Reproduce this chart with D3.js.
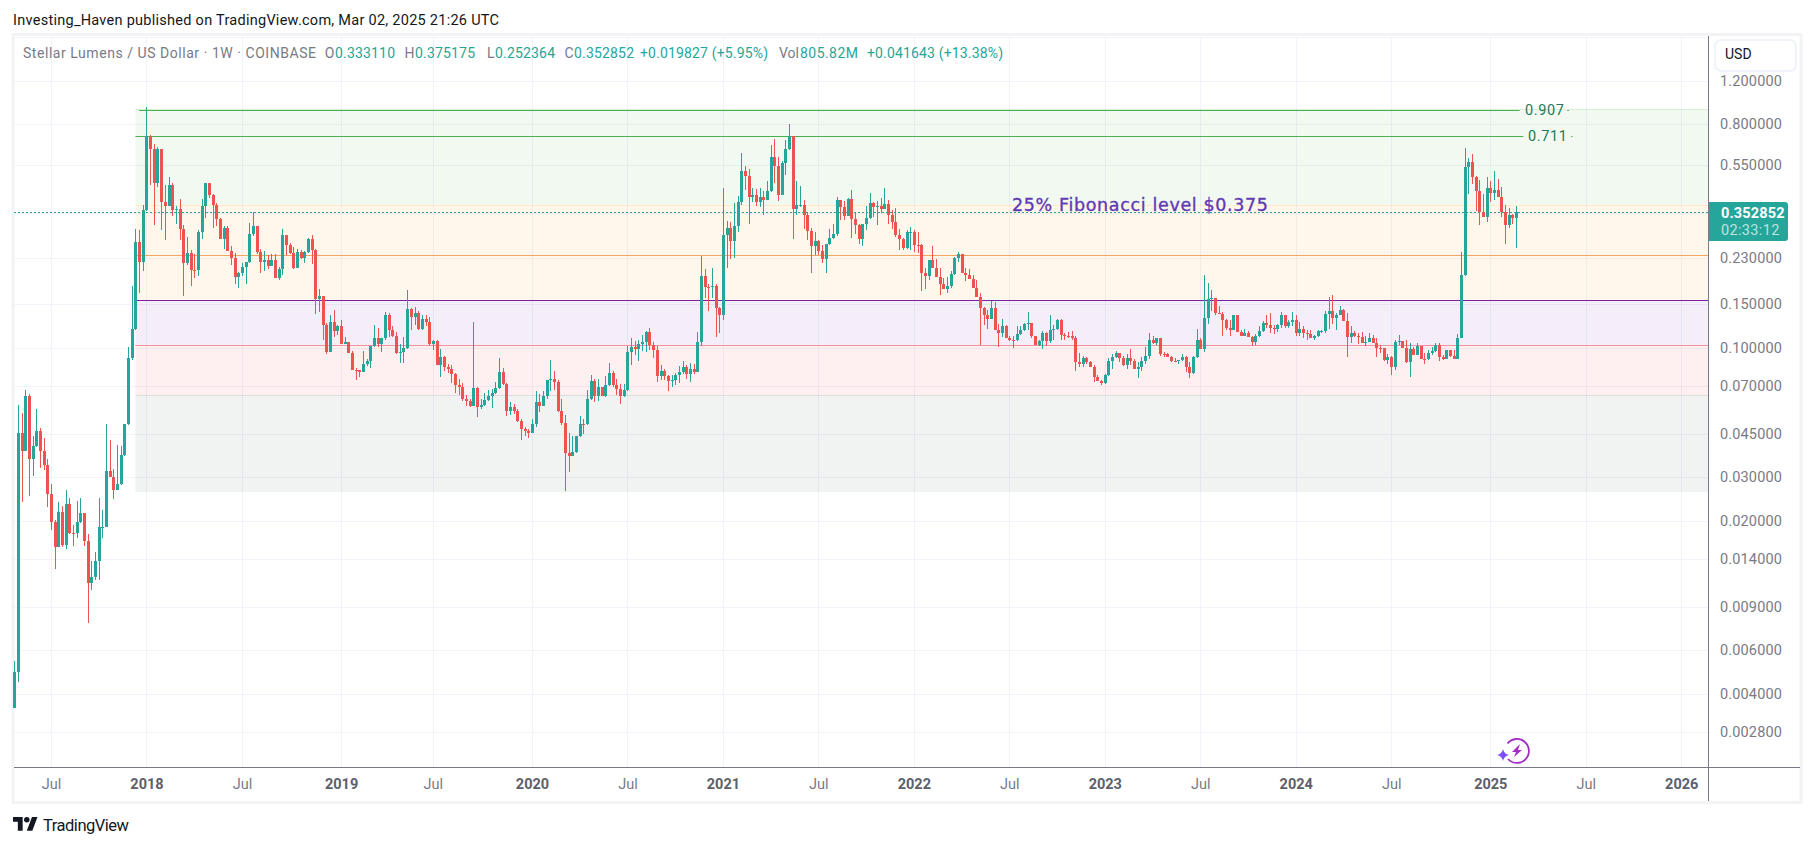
<!DOCTYPE html>
<html>
<head>
<meta charset="utf-8">
<script src="https://cdn.jsdelivr.net/npm/d3@7/dist/d3.min.js"></script>
<style>
  html, body { margin:0; padding:0; background:#fff; }
  svg { display:block; }
  text { font-family:Roboto, sans-serif; }
</style>
</head>
<body>
<svg id="chart" width="1814" height="846"></svg>
<script type="text/javascript">
// weekly candles, first one is the week of 2017-04-24
var firstOpen = .0035;
var closes = [
.00490,.0453,.0383,.0639,.0355,.0401,.0461,.0383,.0336,.0256,
.0198,.0156,.0217,.0159,.0234,.0179,.0178,.0198,.0215,.0165,
.0112,.0118,.0138,.0189,.0189,.0318,.0301,.0266,.0281,.0369,
.0493,.0910,.119,.268,.222,.360,.715,.636,.463,.636,
.388,.374,.455,.360,.364,.302,.220,.242,.206,.2055,
.294,.374,.463,.414,.378,.332,.275,.305,.246,.231,
.193,.201,.212,.222,.288,.311,.244,.222,.226,.214,
.226,.192,.208,.286,.260,.242,.210,.244,.231,.244,
.275,.248,.158,.162,.124,.0962,.127,.117,.122,.1035,
.1055,.0953,.0813,.0812,.0799,.0860,.0885,.1016,.110,.1035,
.109,.135,.118,.112,.0953,.0962,.0998,.144,.133,.138,
.119,.131,.127,.1035,.1065,.0852,.0918,.0837,.0821,.0784,
.0708,.0695,.0621,.0610,.0582,.0688,.0577,.0588,.0615,.0639,
.0657,.0688,.0799,.0714,.0556,.0577,.0556,.0506,.0470,.0461,
.0453,.0493,.0604,.0582,.0639,.0741,.0748,.0728,.0556,.0497,
.0376,.0366,.0379,.0440,.0493,.0490,.0621,.0735,.0639,.0695,
.0639,.0708,.0791,.0708,.0682,.0639,.0675,.0962,.1007,.0988,
.1035,.1055,.116,.1026,.098,.0770,.0806,.0770,.0735,.0741,
.0777,.0799,.0837,.0784,.0821,.0799,.1055,.195,.176,.1755,
.177,.145,.136,.286,.305,.270,.311,.388,.518,.4945,
.407,.414,.388,.407,.396,.430,.590,.543,.414,.558,
.636,.715,.364,.378,.378,.344,.296,.258,.270,.246,
.228,.263,.278,.288,.396,.371,.341,.399,.332,.314,
.275,.316,.335,.385,.371,.374,.364,.381,.344,.322,
.286,.275,.253,.294,.294,.260,.259,.201,.195,.226,
.210,.193,.181,.173,.178,.199,.231,.239,.201,.197,
.190,.175,.161,.145,.135,.131,.145,.118,.115,.122,
.109,.1075,.1073,.114,.118,.125,.126,.112,.1026,.1065,
.115,.1065,.118,.119,.1295,.113,.112,.1118,.109,.0876,
.0860,.0910,.0876,.0837,.0762,.0735,.0721,.0777,.0885,.0918,
.0953,.0910,.0852,.0910,.0885,.0821,.0837,.0885,.0927,.1075,
.1045,.109,.0944,.0942,.0918,.0885,.0883,.0893,.0918,.0837,
.0791,.0918,.1075,.0988,.132,.158,.159,.138,.137,.1295,
.120,.118,.135,.116,.112,.115,.111,.1055,.112,.117,
.126,.124,.120,.119,.123,.135,.122,.127,.1295,.115,
.119,.115,.114,.109,.112,.117,.1172,.137,.141,.132,
.136,.142,.128,.111,.115,.112,.111,.1045,.1055,.110,
.1045,.0998,.0995,.0893,.0918,.0837,.1055,.1065,.0998,.0876,
.0988,.0935,.1016,.0901,.0897,.0953,.0971,.1026,.0918,.0901,
.098,.0927,.0901,.110,.197,.538,.563,.490,.430,.354,
.338,.442,.422,.434,.407,.354,.314,.344,.33311,.352852
];
var highs = [
.00543,.0588,.0546,.0675,.0651,.0440,.0566,.0475,.0432,.0355,
.0281,.0202,.0239,.0230,.0266,.0247,.0193,.0241,.0247,.0215,
.0177,.0138,.0149,.0247,.0221,.0493,.0424,.0324,.0405,.0401,
.0493,.1007,.178,.302,.299,.378,.940,.724,.666,.648,
.636,.455,.490,.463,.374,.399,.314,.280,.248,.239,
.299,.399,.463,.463,.418,.385,.335,.311,.311,.258,
.242,.203,.220,.222,.319,.354,.311,.251,.246,.237,
.239,.239,.212,.302,.286,.265,.256,.251,.248,.246,
.278,.286,.251,.173,.162,.126,.135,.142,.123,.1295,
.111,.1055,.0971,.0829,.0813,.0971,.0901,.1016,.124,.120,
.110,.140,.138,.122,.116,.1035,.111,.171,.145,.146,
.141,.135,.136,.133,.1075,.1075,.0988,.0927,.0860,.0852,
.0791,.0748,.0721,.0645,.0621,.127,.0695,.0621,.0657,.0675,
.0682,.0728,.0910,.0829,.0721,.0604,.0593,.0566,.0516,.0479,
.0470,.0516,.0669,.0651,.0669,.0741,.0893,.0806,.0741,.0621,
.0536,.0453,.0440,.0440,.0531,.0516,.0675,.0777,.0748,.0748,
.0695,.0770,.0868,.0806,.0748,.0714,.0714,.1016,.109,.1065,
.1075,.113,.117,.120,.1055,.1016,.0852,.0821,.0777,.0777,
.0791,.0845,.0885,.0852,.0868,.0860,.116,.235,.208,.181,
.210,.181,.146,.442,.325,.322,.385,.4105,.6125,.543,
.528,.442,.438,.442,.430,.472,.660,.698,.590,.568,
.691,.802,.717,.472,.4506,.396,.350,.305,.294,.273,
.260,.263,.302,.316,.407,.396,.392,.403,.434,.350,
.316,.316,.374,.422,.388,.392,.403,.442,.396,.360,
.367,.302,.278,.299,.308,.299,.294,.263,.210,.226,
.258,.228,.210,.192,.193,.204,.233,.244,.239,.210,
.208,.197,.188,.167,.146,.142,.155,.153,.125,.131,
.123,.112,.112,.122,.122,.126,.140,.126,.112,.1075,
.117,.116,.135,.124,.131,.131,.115,.116,.117,.112,
.0953,.0927,.0918,.0885,.0852,.0777,.0741,.0784,.0910,.0944,
.0971,.0953,.0927,.0944,.0988,.0901,.0876,.0918,.1007,.115,
.112,.110,.109,.0962,.0953,.0927,.0910,.0893,.0944,.0927,
.0876,.0927,.119,.110,.197,.183,.171,.159,.148,.140,
.131,.1295,.136,.136,.118,.119,.117,.112,.114,.122,
.128,.136,.138,.124,.125,.140,.136,.1295,.140,.136,
.127,.122,.118,.118,.113,.118,.118,.141,.161,.164,
.138,.148,.144,.138,.122,.117,.115,.116,.112,.115,
.113,.109,.1026,.0998,.0944,.0927,.1075,.113,.1065,.1075,
.1045,.1007,.1045,.1016,.0953,.098,.1007,.1045,.1045,.0935,
.098,.098,.098,.114,.244,.642,.585,.607,.4945,.4765,
.418,.490,.472,.518,.481,.446,.378,.367,.347,.375175
];
var lows = [
.00350,.00447,.0239,.0383,.0252,.0304,.0398,.0327,.0321,.0228,
.0184,.0128,.0156,.0156,.0153,.0177,.0158,.0171,.0195,.0158,
.00773,.0105,.0115,.0115,.0171,.0188,.0301,.0245,.0266,.0279,
.0366,.0488,.0893,.118,.167,.204,.357,.455,.314,.446,
.299,.273,.374,.341,.316,.273,.162,.216,.178,.192,
.195,.275,.335,.403,.305,.311,.275,.251,.246,.216,
.181,.175,.195,.181,.220,.283,.239,.201,.204,.208,
.214,.192,.188,.197,.237,.239,.208,.210,.228,.220,
.242,.218,.137,.140,.1075,.0944,.0962,.111,.113,.1035,
.1035,.0953,.0813,.0741,.0762,.0799,.0845,.0829,.1007,.1007,
.0962,.1075,.111,.111,.0944,.0868,.0868,.0988,.118,.124,
.118,.118,.122,.1026,.098,.0852,.0762,.0806,.0791,.0721,
.0657,.0645,.0610,.0582,.0577,.0582,.0526,.0566,.0582,.0610,
.0571,.0651,.0682,.0708,.0531,.0536,.0541,.0502,.0424,.0440,
.0432,.0453,.0479,.0551,.0582,.0621,.0669,.0675,.0551,.0488,
.0264,.0315,.0366,.0376,.0436,.0449,.0488,.0615,.0604,.0610,
.0639,.0633,.0701,.0695,.0645,.0593,.0633,.0669,.0852,.0935,
.0885,.0971,.0962,.098,.0910,.0728,.0741,.0741,.0669,.0695,
.0708,.0721,.0784,.0748,.0728,.0784,.0799,.1016,.159,.141,
.159,.111,.115,.1295,.210,.228,.231,.294,.378,.434,
.316,.388,.374,.371,.344,.396,.426,.463,.392,.414,
.499,.630,.275,.344,.371,.302,.273,.201,.237,.237,
.220,.201,.260,.275,.283,.328,.328,.341,.278,.288,
.263,.258,.299,.332,.338,.314,.350,.364,.316,.302,
.280,.248,.248,.251,.248,.244,.242,.170,.173,.188,
.210,.193,.164,.173,.167,.175,.197,.222,.201,.186,
.190,.175,.161,.1026,.124,.119,.131,.118,.1007,.111,
.109,.1065,.0998,.1065,.113,.117,.118,.109,.1026,.1016,
.0988,.1016,.1045,.1075,.118,.1075,.1075,.110,.1075,.0806,
.0837,.0837,.0860,.0837,.0728,.0735,.0708,.0714,.0770,.0821,
.0910,.0876,.0845,.0821,.0852,.0821,.0755,.0806,.0860,.0901,
.1035,.1026,.0927,.0918,.0918,.0876,.0876,.0860,.0885,.0799,
.0755,.0784,.0910,.0988,.0962,.125,.141,.135,.137,.112,
.118,.112,.118,.116,.112,.112,.111,.1016,.1026,.111,
.116,.120,.115,.114,.116,.120,.120,.120,.122,.112,
.112,.110,.1075,.109,.1075,.111,.115,.115,.119,.125,
.118,.135,.128,.0918,.1045,.111,.1035,.1045,.1016,.1055,
.1045,.0918,.0953,.0885,.0860,.0777,.0813,.1026,.0998,.0868,
.0762,.0935,.0935,.0901,.0860,.0893,.0935,.0962,.0885,.0893,
.0901,.0918,.0901,.0901,.109,.195,.418,.459,.357,.314,
.338,.322,.388,.396,.407,.338,.263,.305,.316,.252364
];

var priceTicks = [1.2,.8,.55,.23,.15,.1,.07,.045,.03,.02,.014,.009,.006,.004,.0028];
var hiddenGridPrices = [1.8,.35];
var timeTicks = [
  [2017,6,3,"Jul"],[2018,0,1,"2018"],[2018,6,2,"Jul"],[2019,0,7,"2019"],[2019,6,1,"Jul"],
  [2020,0,6,"2020"],[2020,6,6,"Jul"],[2021,0,4,"2021"],[2021,6,5,"Jul"],[2022,0,3,"2022"],
  [2022,6,4,"Jul"],[2023,0,2,"2023"],[2023,6,3,"Jul"],[2024,0,1,"2024"],[2024,6,1,"Jul"],
  [2025,0,6,"2025"],[2025,6,7,"Jul"],[2026,0,5,"2026"]
];

// fib zones, top to bottom
var zonePrices = [.92,.379,.156,.1024,.0645,.0261];
var zoneFills = ["rgba(76,175,80,.08)","rgba(255,152,0,.08)","rgba(123,31,162,.08)","rgba(242,54,69,.08)","rgba(96,110,110,.09)"];
var zoneEdges = ["rgba(76,175,80,.18)","rgba(255,152,0,.15)","rgba(123,31,162,.06)","rgba(242,54,69,.06)","rgba(90,100,100,.14)"];
var topFibPrice = .912;
var fibLinePrices = [.715,.237,.156,.1024];
var fibLineColors = ["#4caf50","#f5a55f","#7e1fa8","#f1939b"];

var lastPrice = .352852;

var W = 1814, paneLeft = 14, paneRight = 1709, paneTop = 37, paneBottom = 767, outerRight = 1800, outerBottom = 801;
var GREEN = "#26a69a", RED = "#ef5350", GRID = "#f0f3fa", AXIS = "#787b86";

var svg = d3.select("#chart");

var weeks = d3.utcMonday.range(new Date(Date.UTC(2017,3,24)), new Date(Date.UTC(2025,8,1)));
var x = d3.scaleUtc()
  .domain([weeks[0], weeks[closes.length-1]])
  .range([14.3, 1516]);
var y = d3.scaleLog()
  .domain([.0028, 1.2])
  .range([732, 80.7]);

function crisp(v){ return Math.round(v)+.5; }

// outer frame
svg.append("rect").attr("x",13).attr("y",34.5).attr("width",outerRight-12).attr("height",outerBottom-33)
  .attr("fill","#fff").attr("stroke","#f3f3f5").attr("stroke-width",3);

// grid
var gridV = timeTicks.map(function(d){ return new Date(Date.UTC(d[0],d[1],d[2])); });
svg.append("g").selectAll("line").data(gridV).enter().append("line")
  .attr("x1",function(d){return crisp(x(d));}).attr("x2",function(d){return crisp(x(d));})
  .attr("y1",paneTop).attr("y2",paneBottom)
  .attr("stroke",GRID);
svg.append("g").selectAll("line").data(priceTicks.concat(hiddenGridPrices)).enter().append("line")
  .attr("x1",paneLeft).attr("x2",paneRight)
  .attr("y1",function(d){return crisp(y(d));}).attr("y2",function(d){return crisp(y(d));})
  .attr("stroke",GRID);

// fib zones
var zoneStart = x(weeks[33]);
var zones = svg.append("g");
for (var i=0; i<zoneFills.length; ++i){
  zones.append("rect")
    .attr("x",zoneStart).attr("width",paneRight-zoneStart)
    .attr("y",y(zonePrices[i])).attr("height",y(zonePrices[i+1])-y(zonePrices[i]))
    .attr("fill",zoneFills[i]);
  zones.append("line")
    .attr("x1",zoneStart).attr("x2",paneRight)
    .attr("y1",crisp(y(zonePrices[i]))).attr("y2",crisp(y(zonePrices[i])))
    .attr("stroke",zoneEdges[i]);
}
// the two green levels stop at their labels, with a speck of line after the text
zones.append("line").attr("x1",x(weeks[34])).attr("x2",x(weeks[410]))
  .attr("y1",crisp(y(topFibPrice))).attr("y2",crisp(y(topFibPrice))).attr("stroke","#4caf50");
zones.append("line").attr("x1",x(weeks[423])).attr("x2",x(weeks[423])+1.5)
  .attr("y1",crisp(y(topFibPrice))).attr("y2",crisp(y(topFibPrice))).attr("stroke","#4caf50");
zones.append("line").attr("x1",x(weeks[424])).attr("x2",x(weeks[424])+1.5)
  .attr("y1",crisp(y(fibLinePrices[0]))).attr("y2",crisp(y(fibLinePrices[0]))).attr("stroke","#4caf50");
fibLinePrices.forEach(function(p,k){
  zones.append("line")
    .attr("x1",zoneStart).attr("x2",k==0 ? x(weeks[411]) : paneRight)
    .attr("y1",crisp(y(p))).attr("y2",crisp(y(p)))
    .attr("stroke",fibLineColors[k]);
});

// last price line
svg.append("line").attr("x1",paneLeft).attr("x2",paneRight)
  .attr("y1",crisp(y(lastPrice))).attr("y2",crisp(y(lastPrice)))
  .attr("stroke",GREEN).attr("stroke-dasharray","2 2");

// candles
svg.append("clipPath").attr("id","pane").append("rect")
  .attr("x",13).attr("y",paneTop).attr("width",paneRight-13).attr("height",paneBottom-paneTop);
var candles = svg.append("g").attr("clip-path","url(#pane)")
  .selectAll("g").data(closes).enter().append("g")
  .attr("fill",function(c,i){ var o = i==0 ? firstOpen : closes[i-1]; return c>=o ? GREEN : RED; });
candles.append("rect")
  .attr("x",function(c,i){ return Math.round(x(weeks[i])); })
  .attr("width",1)
  .attr("y",function(c,i){ return Math.round(y(highs[i])); })
  .attr("height",function(c,i){ return Math.max(1,Math.round(y(lows[i]))-Math.round(y(highs[i]))); });
candles.append("rect")
  .attr("x",function(c,i){ return Math.round(x(weeks[i]))-1; })
  .attr("width",3)
  .attr("y",function(c,i){ var o = i==0 ? firstOpen : closes[i-1]; return Math.round(y(Math.max(o,c))); })
  .attr("height",function(c,i){ var o = i==0 ? firstOpen : closes[i-1];
    return Math.max(1,Math.round(y(Math.min(o,c)))-Math.round(y(Math.max(o,c)))); });

// fib labels
svg.append("text").attr("x",1525).attr("y",y(topFibPrice)).attr("dy",".35em")
  .attr("font-size",14.5).attr("fill","#22795d").attr("letter-spacing",".6").text("0.907");
svg.append("text").attr("x",1528).attr("y",y(fibLinePrices[0])).attr("dy",".35em")
  .attr("font-size",14.5).attr("fill","#22795d").attr("letter-spacing",".6").text("0.711");

// annotation
svg.append("text").attr("x",1012).attr("y",205).attr("dy",".35em")
  .style("font-family","'DejaVu Sans'").attr("font-size",17.5).attr("fill","#5e3ab5")
  .attr("stroke","#5e3ab5").attr("stroke-width",.35)
  .attr("textLength",256).text("25% Fibonacci level $0.375");

// axes
svg.append("line").attr("x1",crisp(paneRight-1)).attr("x2",crisp(paneRight-1)).attr("y1",36).attr("y2",outerBottom).attr("stroke",AXIS);
svg.append("line").attr("x1",paneLeft).attr("x2",outerRight).attr("y1",crisp(paneBottom)).attr("y2",crisp(paneBottom)).attr("stroke",AXIS);

var yAxis = d3.axisRight(y).tickValues(priceTicks).tickSize(0).tickPadding(0).tickFormat(d3.format(".6f"));
var gy = svg.append("g").attr("transform","translate(1720,0)").call(yAxis);
gy.select(".domain").remove();
gy.selectAll("text").attr("font-size",14.5).attr("fill",AXIS).style("font-family","Roboto").attr("letter-spacing",".15");

var timeLabels = {};
timeTicks.forEach(function(d,k){ timeLabels[gridV[k].getTime()] = d[3]; });
var xAxis = d3.axisBottom(x).tickValues(gridV).tickSize(0).tickPadding(0)
  .tickFormat(function(d){ return timeLabels[d.getTime()]; });
var gx = svg.append("g").attr("transform","translate(0,779)").call(xAxis);
gx.select(".domain").remove();
gx.selectAll("text").attr("font-size",14.5).style("font-family","Roboto")
  .attr("fill",function(d){ return timeLabels[d.getTime()]=="Jul" ? AXIS : "#5d606b"; })
  .attr("font-weight",function(d){ return timeLabels[d.getTime()]=="Jul" ? 400 : 700; });

// last price tag
svg.append("path").attr("d","M1709 202H1785a3 3 0 0 1 3 3V238a3 3 0 0 1 -3 3H1709Z").attr("fill",GREEN);
svg.append("text").attr("x",1721).attr("y",213).attr("dy",".35em").attr("font-size",14.5).attr("font-weight",700)
  .attr("fill","#fff").attr("letter-spacing",".15").text(d3.format(".6f")(lastPrice));
svg.append("text").attr("x",1721).attr("y",230).attr("dy",".35em").attr("font-size",14.5)
  .attr("fill","rgba(255,255,255,.7)").attr("letter-spacing",".35").text("02:33:12");

// currency button
svg.append("rect").attr("x",1715).attr("y",40).attr("width",81).attr("height",31).attr("rx",6)
  .attr("fill","#fff").attr("stroke","#f0f3fa").attr("stroke-width",2);
svg.append("text").attr("x",1725).attr("y",54).attr("dy",".35em").attr("font-size",14).attr("fill","#131722").text("USD");

// top texts
svg.append("text").attr("x",13).attr("y",20).attr("dy",".35em").attr("font-size",14.5).attr("fill","#131722")
  .attr("textLength",486).text("Investing_Haven published on TradingView.com, Mar 02, 2025 21:26 UTC");

var legendTexts = [
  ["Stellar Lumens / US Dollar · 1W · COINBASE",23,293,AXIS],
  ["0.333110",335,60,GREEN],["0.375175",415,60,GREEN],["0.252364",495,60,GREEN],["0.352852",574,60,GREEN],
  ["+0.019827 (+5.95%)",640,128,GREEN],
  ["Vol",779,20,AXIS],["805.82M",800,58,GREEN],
  ["+0.041643 (+13.38%)",867,136,GREEN]
];
svg.append("g").selectAll("text").data(legendTexts).enter().append("text")
  .attr("x",function(d){return d[1];}).attr("y",53).attr("dy",".35em").attr("font-size",14)
  .attr("textLength",function(d){return d[2];}).attr("fill",function(d){return d[3];})
  .text(function(d){return d[0];});
var legendLetters = [["O",334.5],["H",414.5],["L",494.5],["C",573.5]];
svg.append("g").selectAll("text").data(legendLetters).enter().append("text")
  .attr("x",function(d){return d[1];}).attr("y",53).attr("dy",".35em").attr("font-size",14)
  .attr("text-anchor","end").attr("fill",AXIS)
  .text(function(d){return d[0];});

// tradingview logo
var logo = svg.append("g").attr("transform","translate(13,817) scale(.69)").attr("fill","#131722");
logo.append("path").attr("d","M14 20H7V7H0V0h14v20zM28 20h-8L27.5 0h8L28 20z");
logo.append("circle").attr("cx",20).attr("cy",4).attr("r",4);
svg.append("text").attr("x",43).attr("y",825).attr("dy",".35em").attr("font-size",16.5).attr("fill","#131722")
  .attr("textLength",86).text("TradingView");

// snapshot badge
var badge = svg.append("g").attr("transform","translate(1517,751)");
badge.append("path").attr("d","M-9.5 -7.5A12 12 0 1 1 -9 8").attr("fill","none").attr("stroke","#a32cc4").attr("stroke-width",1.8);
badge.append("path").attr("d","M3 -7L-5 1H-1L-3 6L5 -1H1Z").attr("fill","#a32cc4");
badge.append("path").attr("d","M-14 -2Q-13 3 -8 4Q-13 5 -14 10Q-15 5 -20 4Q-15 3 -14 -2Z").attr("fill","#7c4dff");
</script>
</body>
</html>
